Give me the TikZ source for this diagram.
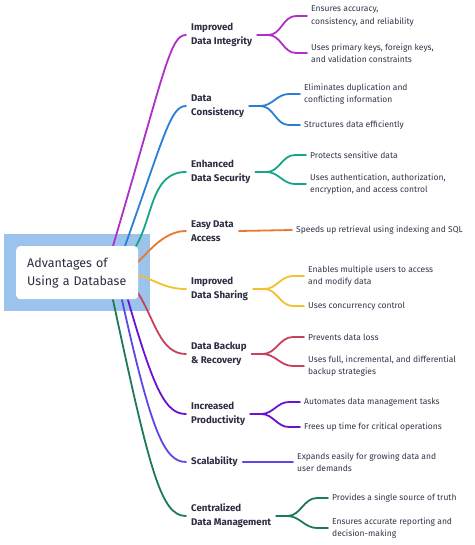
\documentclass[tikz,border=0pt]{standalone}
\usepackage{fontspec}
\setmainfont{Fira Sans}
\usetikzlibrary{calc}
\definecolor{cInt}{HTML}{B02FC9}
\definecolor{cCon}{HTML}{2A7FD4}
\definecolor{cSec}{HTML}{17A589}
\definecolor{cAcc}{HTML}{E8792E}
\definecolor{cSha}{HTML}{F2C12E}
\definecolor{cBak}{HTML}{C8405A}
\definecolor{cPro}{HTML}{6A11D4}
\definecolor{cSca}{HTML}{5B48E6}
\definecolor{cCen}{HTML}{1D7A58}
\definecolor{boxblue}{HTML}{9CC3EB}
\definecolor{txt}{HTML}{2B2D42}
\definecolor{txtb}{HTML}{33364A}
\begin{document}
\begin{tikzpicture}[x=1pt,y=-1pt,
  lab/.style={anchor=west, align=left, font=\bfseries\fontsize{9.7}{14}\selectfont, text=txt, inner xsep=5pt, inner ysep=0pt},
  sub/.style={anchor=west, align=left, font=\fontsize{8.5}{12.5}\selectfont, text=txtb, inner xsep=4pt, inner ysep=0pt},
  conn/.style={line width=1.8pt, line cap=round},
]
\useasboundingbox (0,0) rectangle (474,545);
\fill[white] (0,0) rectangle (474,545);

% central outer band
\node[fill=boxblue, minimum width=146pt, minimum height=77pt, anchor=north west, inner sep=0pt] (outer) at (4,234) {};

% labels
\node[lab] (lInt) at (186,35) {Improved\\Data Integrity};
\node[lab] (lCon) at (186,106) {Data\\Consistency};
\node[lab] (lSec) at (186,172) {Enhanced\\Data Security};
\node[lab] (lAcc) at (186,231) {Easy Data\\Access};
\node[lab] (lSha) at (186,289) {Improved\\Data Sharing};
\node[lab] (lBak) at (186,354) {Data Backup\\\& Recovery};
\node[lab] (lPro) at (186,414) {Increased\\Productivity};
\node[lab] (lSca) at (186,462) {Scalability};
\node[lab] (lCen) at (186,516) {Centralized\\Data Management};

% start points on the hub
\coordinate (s1) at (113,246);
\coordinate (s2) at (125,246);
\coordinate (s3) at (136,246);
\coordinate (s4) at (138,262);
\coordinate (s5) at (138,275);
\coordinate (s6) at (138,293);
\coordinate (s7) at (128,300);
\coordinate (s8) at (122,300);
\coordinate (s9) at (113,300);

% main connectors
\draw[conn,cInt] (s1) .. controls (165,70) and (170,35) .. (lInt.west);
\draw[conn,cCon] (s2) .. controls (164.7,134) and (170.8,106) .. (lCon.west);
\draw[conn,cSec] (s3) .. controls (153.5,216) and (151,172) .. (lSec.west);
\draw[conn,cAcc] (s4) .. controls (150,250) and (165,231) .. (lAcc.west);
\draw[conn,cSha] (s5) .. controls (155,280) and (165,289) .. (lSha.west);
\draw[conn,cBak] (s6) .. controls (155,320) and (160,354) .. (lBak.west);
\draw[conn,cPro] (s7) .. controls (154.5,392) and (166,414) .. (lPro.west);
\draw[conn,cSca] (s8) .. controls (151,430) and (164,462) .. (lSca.west);
\draw[conn,cCen] (s9) .. controls (150,472) and (161,516) .. (lCen.west);

% hub
\node[fill=white, rounded corners=4pt, minimum width=122pt, minimum height=53pt, anchor=north west, text width=100pt, align=left, inner xsep=0pt, font=\fontsize{12.5}{18}\selectfont, text=txt] (hub) at (16,246) {Advantages of\\Using a Database};

% sub texts
\node[sub] (sInta) at (307,16) {Ensures accuracy,\\consistency, and reliability};
\node[sub] (sIntb) at (307,53) {Uses primary keys, foreign keys,\\and validation constraints};
\node[sub] (sCona) at (300,94) {Eliminates duplication and\\conflicting information};
\node[sub] (sConb) at (300,125) {Structures data efficiently};
\node[sub] (sSeca) at (306,155) {Protects sensitive data};
\node[sub] (sSecb) at (306,184) {Uses authentication, authorization,\\encryption, and access control};
\node[sub] (sAcc) at (292,230) {Speeds up retrieval using indexing and SQL};
\node[sub] (sShaa) at (304,276) {Enables multiple users to access\\and modify data};
\node[sub] (sShab) at (304,306) {Uses concurrency control};
\node[sub] (sBaka) at (304,337) {Prevents data loss};
\node[sub] (sBakb) at (304,366) {Uses full, incremental, and differential\\backup strategies};
\node[sub] (sProa) at (300,402) {Automates data management tasks};
\node[sub] (sProb) at (300,427) {Frees up time for critical operations};
\node[sub] (sSca) at (293,462) {Expands easily for growing data and\\user demands};
\node[sub] (sCena) at (328,498) {Provides a single source of truth};
\node[sub] (sCenb) at (328,528) {Ensures accurate reporting and\\decision-making};

% forks
\foreach \l/\a/\c in {lInt/sInta/cInt, lInt/sIntb/cInt, lCon/sCona/cCon, lCon/sConb/cCon,
  lSec/sSeca/cSec, lSec/sSecb/cSec, lSha/sShaa/cSha, lSha/sShab/cSha,
  lBak/sBaka/cBak, lBak/sBakb/cBak, lPro/sProa/cPro, lPro/sProb/cPro,
  lCen/sCena/cCen, lCen/sCenb/cCen}
  \draw[conn,\c] (\l.east) -- ++(11,0) to[out=0,in=180] ($(\a.west)+(-11,0)$) -- (\a.west);
\draw[conn,cAcc] (lAcc.east) -- (sAcc.west);
\draw[conn,cSca] (lSca.east) -- (sSca.west);
\end{tikzpicture}
\end{document}
